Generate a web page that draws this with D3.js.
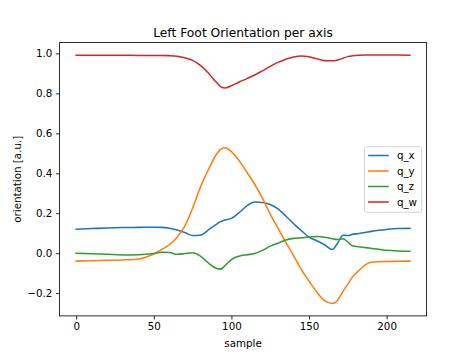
<!DOCTYPE html>
<html>
<head>
<meta charset="utf-8">
<script src="https://cdn.jsdelivr.net/npm/d3@7"></script>
<style>
  html, body { margin: 0; padding: 0; background: #fff; }
  svg text { font-family: "DejaVu Sans", sans-serif; fill: #000; }
</style>
</head>
<body>
<svg id="chart" width="474" height="355"></svg>
<script>
// ---- data ----
const samples = [0,10,20,30,40,50,55,60,65,70,75,80,85,90,93,96,100,105,110,115,120,125,130,135,140,145,150,155,160,165,168,172,175,178,182,186,190,195,200,207,215];
const qx = [0.120,0.123,0.126,0.128,0.129,0.130,0.129,0.125,0.116,0.103,0.088,0.090,0.115,0.143,0.158,0.166,0.174,0.203,0.237,0.256,0.254,0.244,0.222,0.186,0.148,0.113,0.080,0.062,0.042,0.018,0.045,0.090,0.088,0.094,0.098,0.103,0.109,0.115,0.119,0.123,0.124];
const qy = [-0.040,-0.038,-0.036,-0.034,-0.029,-0.004,0.018,0.042,0.080,0.135,0.225,0.330,0.415,0.490,0.520,0.528,0.508,0.462,0.405,0.345,0.275,0.195,0.125,0.055,-0.012,-0.082,-0.140,-0.195,-0.238,-0.252,-0.240,-0.190,-0.155,-0.120,-0.088,-0.060,-0.046,-0.043,-0.042,-0.041,-0.040];
const qz = [0.000,-0.003,-0.006,-0.009,-0.008,-0.002,0.004,0.003,-0.006,-0.002,0.002,-0.015,-0.048,-0.076,-0.080,-0.062,-0.032,-0.015,-0.008,-0.002,0.014,0.035,0.050,0.066,0.074,0.077,0.081,0.083,0.080,0.072,0.068,0.072,0.055,0.037,0.032,0.028,0.024,0.019,0.014,0.011,0.010];
const qw = [0.991,0.991,0.991,0.991,0.990,0.990,0.990,0.989,0.986,0.978,0.965,0.940,0.903,0.858,0.834,0.827,0.838,0.857,0.874,0.892,0.913,0.935,0.955,0.971,0.982,0.987,0.983,0.973,0.964,0.963,0.966,0.976,0.984,0.988,0.991,0.992,0.992,0.992,0.992,0.992,0.991];
const seriesNames = ["q_x","q_y","q_z","q_w"];
const seriesColors = ["#1f77b4","#ff7f0e","#2ca02c","#d62728"];
const xTicks = [0,50,100,150,200];
const yTicks = [-0.2,0.0,0.2,0.4,0.6,0.8,1.0];
const titleText = "Left Foot Orientation per axis";
const xLabel = "sample";
const yLabel = "orientation [a.u.]";

// ---- layout ----
const W = 474, H = 355;
const L = 59.5, R = 426.6, T = 42.6, B = 315.9;
const fs = 10.3;

const svg = d3.select("#chart");
const allVals = [qx, qy, qz, qw];

const xMin = d3.min(samples), xMax = d3.max(samples);
const xPad = (xMax - xMin) * 0.05;
const x = d3.scaleLinear().domain([xMin - xPad, xMax + xPad]).range([L, R]);
const yMin = d3.min(allVals.flat()), yMax = d3.max(allVals.flat());
const yPad = (yMax - yMin) * 0.05;
const y = d3.scaleLinear().domain([yMin - yPad, yMax + yPad]).range([B, T]);

// lines
const line = d3.line().x(d => x(d[0])).y(d => y(d[1])).curve(d3.curveMonotoneX);
const g = svg.append("g");
allVals.forEach((vals, i) => {
  g.append("path")
    .datum(samples.map((s, j) => [s, vals[j]]))
    .attr("d", line)
    .attr("fill", "none")
    .attr("stroke", seriesColors[i])
    .attr("stroke-width", 1.54)
    .attr("stroke-linejoin", "round")
    .attr("stroke-linecap", "square");
});

// axes
const fmtY = d3.format(".1f");
const xAxis = d3.axisBottom(x).tickValues(xTicks).tickSize(3.6).tickPadding(3.6).tickFormat(d3.format("d"));
const yAxis = d3.axisLeft(y).tickValues(yTicks).tickSize(3.6).tickPadding(3.6).tickFormat(fmtY);

const gx = svg.append("g").attr("transform", `translate(0,${B})`).call(xAxis);
const gy = svg.append("g").attr("transform", `translate(${L},0)`).call(yAxis);
[gx, gy].forEach(ax => {
  ax.select(".domain").remove();
  ax.selectAll(".tick line").attr("stroke", "#000").attr("stroke-width", 0.82);
  ax.selectAll(".tick text").attr("font-size", fs).attr("font-family", "DejaVu Sans").attr("fill", "#000");
});

// spines
svg.append("rect")
  .attr("x", L).attr("y", T).attr("width", R - L).attr("height", B - T)
  .attr("fill", "none").attr("stroke", "#000").attr("stroke-width", 0.82);

// title & labels
svg.append("text").attr("x", (L + R) / 2).attr("y", T - 6)
  .attr("text-anchor", "middle").attr("font-size", 12.3).text(titleText);
svg.append("text").attr("x", (L + R) / 2).attr("y", 346.5)
  .attr("text-anchor", "middle").attr("font-size", fs).text(xLabel);
svg.append("text")
  .attr("transform", `translate(21,${(T + B) / 2}) rotate(-90)`)
  .attr("text-anchor", "middle").attr("font-size", fs).text(yLabel);

// legend
const lgX = 364.5, lgY = 146.7, lgW = 57.2, lgH = 65.6;
const lg = svg.append("g");
lg.append("rect").attr("x", lgX).attr("y", lgY).attr("width", lgW).attr("height", lgH)
  .attr("rx", 2.5).attr("fill", "#fff").attr("fill-opacity", 0.8)
  .attr("stroke", "#cccccc").attr("stroke-width", 0.82);
seriesNames.forEach((name, i) => {
  const cy = lgY + 8.8 + i * 15.5;
  lg.append("line").attr("x1", lgX + 3.6).attr("x2", lgX + 24.2)
    .attr("y1", cy).attr("y2", cy)
    .attr("stroke", seriesColors[i]).attr("stroke-width", 1.54);
  lg.append("text").attr("x", lgX + 32.4).attr("y", cy + 3.7)
    .attr("font-size", fs).text(name);
});
</script>
</body>
</html>
